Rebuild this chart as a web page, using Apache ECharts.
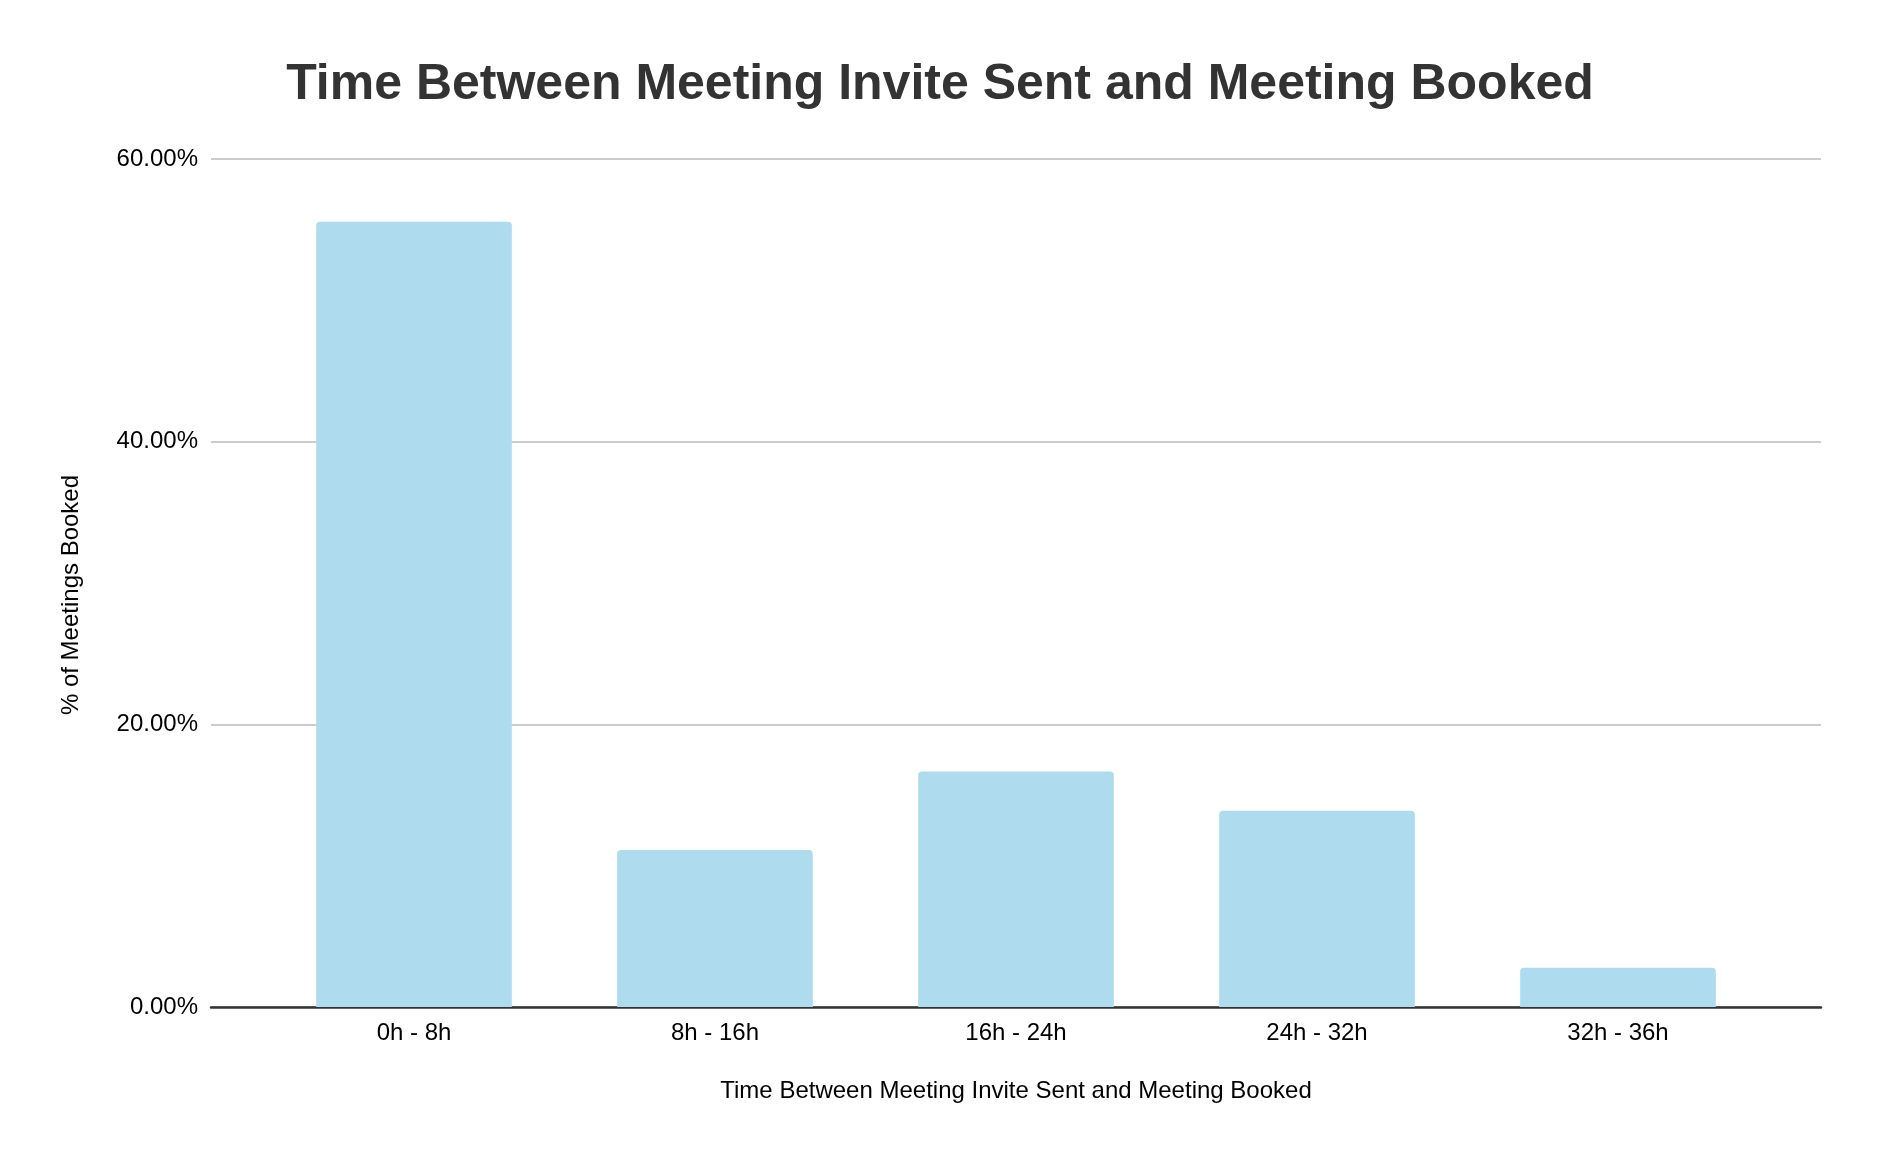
<!DOCTYPE html>
<html>
<head>
<meta charset="utf-8">
<script src="https://cdn.jsdelivr.net/npm/echarts@6/dist/echarts.min.js"></script>
<style>html,body{margin:0;padding:0;background:#fff}#c{width:1880px;height:1162px}</style>
</head>
<body>
<div id="c"></div>
<script>
var categories = ['0h - 8h', '8h - 16h', '16h - 24h', '24h - 32h', '32h - 36h'];
var pctBooked = [55.56, 11.11, 16.67, 13.89, 2.78];
var yTicks = [0, 20, 40, 60];

var FONT = '"Liberation Sans", Arial, Helvetica, sans-serif';
var chart = echarts.init(document.getElementById('c'));
chart.setOption({
  backgroundColor: '#ffffff',
  animation: false,
  title: {
    text: 'Time Between Meeting Invite Sent and Meeting Booked',
    left: 'center',
    top: 55,
    textStyle: { fontFamily: FONT, fontSize: 50, fontWeight: 'bold', color: '#333333' }
  },
  grid: [
    { left: 211, right: 59, top: 159, bottom: 155 },
    { left: 263.5, right: 111.5, top: 159, bottom: 155 }
  ],
  xAxis: [
    {
      gridIndex: 0, type: 'value', min: 0, max: 1,
      axisLine: { show: true, onZero: false, lineStyle: { color: '#333333', width: 2.5 } },
      axisTick: { show: false }, axisLabel: { show: false }, splitLine: { show: false },
      name: 'Time Between Meeting Invite Sent and Meeting Booked',
      nameLocation: 'middle', nameGap: 72,
      nameTextStyle: { fontFamily: FONT, fontSize: 24, color: '#000000' }
    },
    {
      gridIndex: 1, type: 'category', data: categories,
      axisLine: { show: false }, axisTick: { show: false },
      axisLabel: { fontFamily: FONT, fontSize: 24, color: '#000000', margin: 14 }
    }
  ],
  yAxis: [
    {
      gridIndex: 0, type: 'value', min: yTicks[0], max: yTicks[yTicks.length - 1], interval: 20,
      axisLine: { show: false }, axisTick: { show: false },
      axisLabel: {
        fontFamily: FONT, fontSize: 24, color: '#000000', margin: 13,
        formatter: function (v) { return v.toFixed(2) + '%'; }
      },
      splitLine: { show: true, lineStyle: { color: '#cccccc', width: 2 } },
      name: '% of Meetings Booked', nameLocation: 'middle', nameGap: 128,
      nameTextStyle: { fontFamily: FONT, fontSize: 24, color: '#000000', padding: [0, 24, 0, 0] }
    },
    {
      gridIndex: 1, type: 'value', min: yTicks[0], max: yTicks[yTicks.length - 1], interval: 20,
      show: false, splitLine: { show: false }
    }
  ],
  series: [
    {
      type: 'bar', xAxisIndex: 1, yAxisIndex: 1,
      data: pctBooked,
      barCategoryGap: '35%',
      itemStyle: { color: '#afdbee', borderRadius: [4, 4, 0, 0] }
    }
  ]
});
</script>
</body>
</html>
